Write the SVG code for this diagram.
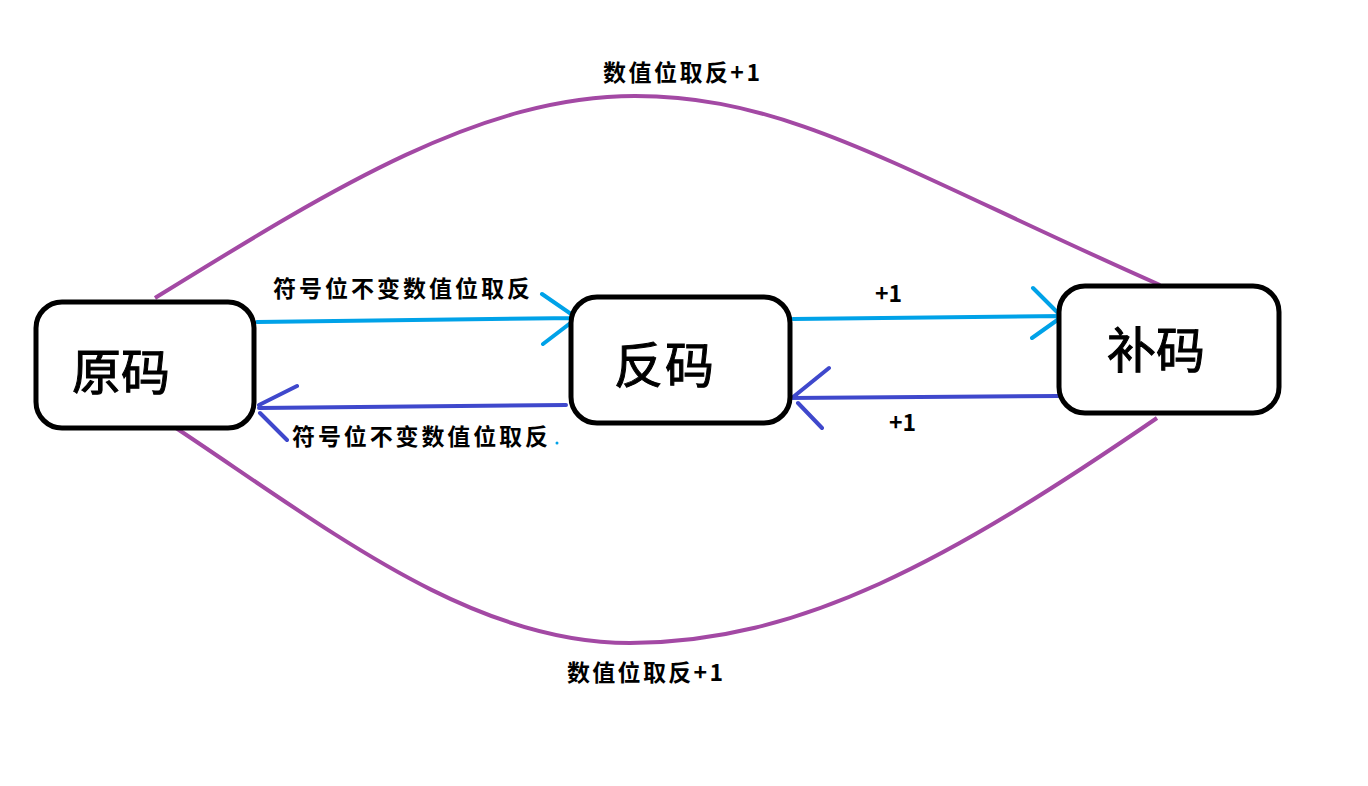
<svg xmlns="http://www.w3.org/2000/svg" width="1368" height="786" viewBox="0 0 1368 786">
<style>
.box{fill:#fff;stroke:#000;stroke-width:5}
.big{font-family:"Noto Sans CJK SC","Noto Sans",sans-serif;font-size:49px;fill:#000;stroke:#000;stroke-width:1}
.lbl{font-family:"Noto Sans CJK SC","Noto Sans",sans-serif;font-size:23px;font-weight:bold;fill:#000}
.cy{stroke:#00a2e8;stroke-width:4;fill:none;stroke-linecap:round}
.bl{stroke:#3f48cc;stroke-width:4;fill:none;stroke-linecap:round}
.pu{stroke:#a349a4;stroke-width:4;fill:none}
</style>
<rect width="1368" height="786" fill="#fff"/>
<g id="connectors">
<path class="pu" d="M155,298 C330,190 480,96 635,96 C790,96 900,170 1160,285"/>
<path class="pu" d="M170,424 C330,530 470,643 630,643 C800,643 950,560 1157,418"/>
<path class="cy" d="M257,322 L577,318 M542,294 L577,318 L543,344"/>
<path class="bl" d="M566,405 L259,408 M297,386 L259,405 M260,413 L287,440"/>
<path class="cy" d="M793,319 L1063,316 M1033,288 L1065,320 M1032,338 L1063,316"/>
<path class="bl" d="M1058,396 L792,398 L829,368 M798,403 L822,428"/>
<circle cx="557" cy="443" r="1.5" fill="#00a2e8"/>
</g>
<g id="yuanma">
<rect class="box" x="36" y="302" width="218" height="126" rx="26"/>
<text class="big" x="72" y="390" textLength="98">原码</text>
</g>
<g id="fanma">
<rect class="box" x="571" y="297" width="219" height="126" rx="26"/>
<text class="big" x="614" y="383" textLength="100">反码</text>
</g>
<g id="buma">
<rect class="box" x="1059" y="286" width="220" height="127" rx="26"/>
<text class="big" x="1107" y="368" textLength="98">补码</text>
</g>
<g id="labels">
<text class="lbl" x="273" y="297" textLength="257">符号位不变数值位取反</text>
<text class="lbl" x="292" y="445" textLength="256">符号位不变数值位取反</text>
<text class="lbl" x="875" y="302">+1</text>
<text class="lbl" x="889" y="431">+1</text>
<text class="lbl" x="603" y="81" textLength="157">数值位取反+1</text>
<text class="lbl" x="567" y="681" textLength="156">数值位取反+1</text>
</g>
</svg>
